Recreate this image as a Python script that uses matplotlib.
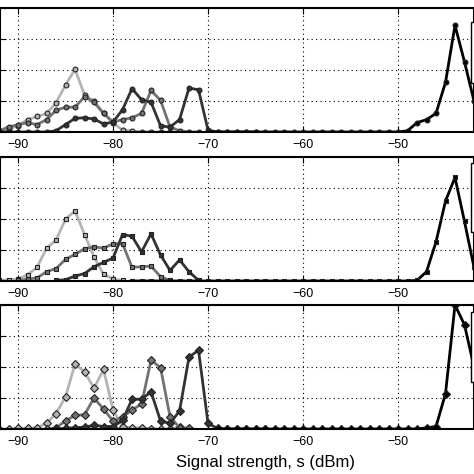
import numpy as np
import matplotlib
matplotlib.use("Agg")
import matplotlib.pyplot as plt
from matplotlib.patches import Rectangle

plt.rcParams['font.family'] = ['Liberation Sans', 'DejaVu Sans']

# signal strength grid (dBm) starts
light1_start = -92
light1 = [0.002, 0.005, 0.01, 0.02, 0.025, 0.03, 0.047, 0.076, 0.101, 0.06, 0.05, 0.03, 0.015, 0.003, 0.002, 0, 0, 0, 0]
med1_start = -92
med1 = [0.002, 0.008, 0.012, 0.015, 0.012, 0.02, 0.035, 0.04, 0.04, 0.057, 0.048, 0.03, 0.016, 0.02, 0.023, 0.03, 0.067, 0.051, 0.008, 0.002, 0, 0]
dark1_start = -92
dark1 = [0, 0, 0, 0, 0, 0, 0.002, 0.012, 0.022, 0.023, 0.021, 0.013, 0.016, 0.036, 0.07, 0.052, 0.048, 0.01, 0.008, 0.02, 0.071, 0.068, 0.003, 0, 0, 0, 0, 0]
black1_start = -70
black1 = [0]*21 + [0.002, 0.015, 0.02, 0.03, 0.08, 0.172, 0.113, 0.05]

light2_start = -92
light2 = [0.001, 0.002, 0.003, 0.01, 0.022, 0.053, 0.066, 0.1, 0.113, 0.075, 0.039, 0.011, 0.003, 0.001]
med2_start = -90
med2 = [0.001, 0.003, 0.005, 0.015, 0.02, 0.035, 0.043, 0.052, 0.055, 0.053, 0.06, 0.06, 0.022, 0.023, 0.024, 0.007, 0.001]
dark2_start = -86
dark2 = [0.001, 0.002, 0.008, 0.012, 0.023, 0.03, 0.037, 0.075, 0.072, 0.047, 0.076, 0.042, 0.017, 0.034, 0.015, 0.001]
black2_start = -78
black2 = [0]*30 + [0.001, 0.015, 0.063, 0.129, 0.167, 0.096, 0.022]

light3_start = -92
light3 = [0, 0, 0.001, 0.001, 0.002, 0.009, 0.025, 0.052, 0.105, 0.092, 0.066, 0.096, 0.031, 0.003, 0.002, 0.002, 0, 0, 0, 0.004, 0]
med3_start = -87
med3 = [0, 0.002, 0.013, 0.022, 0.023, 0.05, 0.032, 0.013, 0.019, 0.031, 0.04, 0.111, 0.099, 0.02, 0.002, 0.001]
dark3_start = -86
dark3 = [0, 0.001, 0.002, 0.003, 0.006, 0.004, 0.004, 0.014, 0.048, 0.048, 0.06, 0.013, 0.009, 0.029, 0.116, 0.127, 0.009, 0.001, 0, 0, 0, 0, 0]
black3_start = -69
black3 = [0]*22 + [0.002, 0.004, 0.057, 0.2, 0.168, 0.1]

xticks = [-90, -80, -70, -60, -50]
xlabel = "Signal strength, s (dBm)"

colors = ['#b4b4b4', '#727272', '#333333', '#000000']
panels = [
    ('o', [(light1_start, light1), (med1_start, med1), (dark1_start, dark1), (black1_start, black1)]),
    ('s', [(light2_start, light2), (med2_start, med2), (dark2_start, dark2), (black2_start, black2)]),
    ('D', [(light3_start, light3), (med3_start, med3), (dark3_start, dark3), (black3_start, black3)]),
]

fig = plt.figure(figsize=(4.74, 4.74), dpi=100)
tops = [8, 157, 305]
for (marker, series), top in zip(panels, tops):
    ax = fig.add_axes([0, 1 - (top + 124) / 474, 1.0, 124 / 474])
    for (start, vals), c in zip(series, colors):
        x = start + np.arange(len(vals))
        ms = 3.5 if marker != 'D' else 3.8
        ax.plot(x, vals, color=c, lw=2, marker=marker, ms=ms,
                mfc=c if c != '#000000' else 'k', mec='#222222', mew=0.8)
    ax.set_xlim(-91.9, -42.0)
    ax.set_ylim(0, 0.2)
    ax.set_xticks(xticks)
    ax.set_yticks([0, 0.05, 0.1, 0.15, 0.2])
    ax.set_yticklabels([])
    ax.grid(True, color='k', linestyle=(0, (1, 3)), lw=0.8)
    ax.tick_params(direction='in', top=True, labelsize=9, length=4, pad=5)
    ax.set_xticklabels([str(t).replace('-', '\u2212') for t in xticks])
    for s in ax.spines.values():
        s.set_linewidth(1.5)

for y0, y1 in [(22, 83), (163, 232), (312, 382)]:
    fig.patches.append(Rectangle((471 / 474, 1 - y1 / 474), 0.1, (y1 - y0) / 474,
                                 transform=fig.transFigure, fill=True, fc='white',
                                 ec='k', lw=1, zorder=10))

fig.text(265 / 474, 1 - 463 / 474, xlabel, ha='center', va='center', fontsize=12)
fig.savefig("out.png", dpi=100)
